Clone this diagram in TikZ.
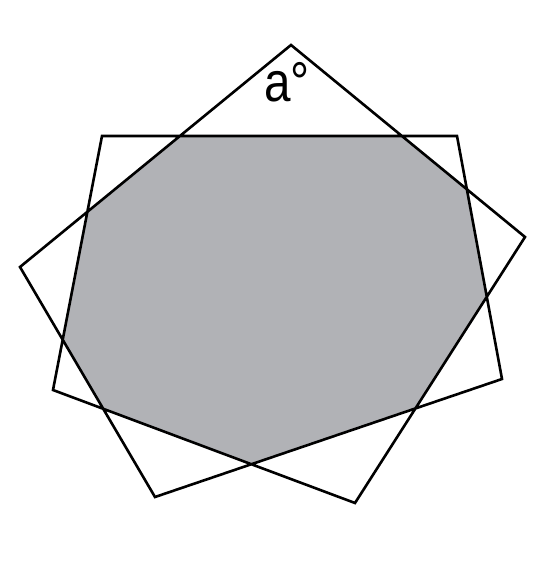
\documentclass[tikz,border=0pt]{standalone}
\usepackage{fontspec}
\setmainfont{Liberation Sans}
\definecolor{overlap}{RGB}{177,178,182}
\tikzset{
  outline/.style={line width=2.6pt,line join=miter},
  anglelabel/.style={font=\fontsize{56}{56}\selectfont,inner sep=0pt,anchor=base,xscale=.85}
}
\begin{document}
\begin{tikzpicture}[x=1pt,y=-1pt]
  \useasboundingbox (0,0) rectangle (554,564);
  % corners of the upright pentagon
  \coordinate (al) at (102,136);
  \coordinate (ar) at (457,136);
  \coordinate (ae) at (502,379);
  \coordinate (ad) at (53,390);
  % corners of the tilted pentagon
  \coordinate (t) at (291,45);
  \coordinate (br) at (525,237);
  \coordinate (be) at (355,503);
  \coordinate (bd) at (155,497);
  \coordinate (bl) at (20,267);
  \coordinate (x) at (intersection of ae--bd and ad--be);
  % shaded overlap
  \begin{scope}
    \clip (al) -- (ar) -- (ae) -- (x) -- (ad) -- cycle;
    \fill[overlap] (t) -- (br) -- (be) -- (x) -- (bd) -- (bl) -- cycle;
  \end{scope}
  \draw[outline] (al) -- (ar) -- (ae) -- (bd) -- (bl) -- (t)
    -- (br) -- (be) -- (ad) -- cycle;
  \node[anglelabel] (angle) at (287,102) {a°};
\end{tikzpicture}
\end{document}
